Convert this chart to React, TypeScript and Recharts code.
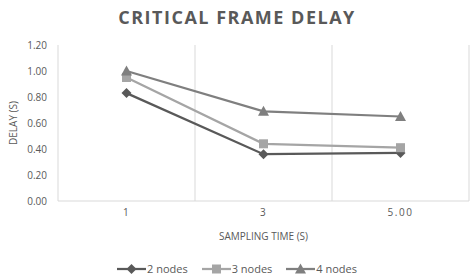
import { CartesianGrid, Line, LineChart, XAxis, YAxis } from 'recharts';

const samplingTimes = ['1', '3', '5.00'];
const twoNodes = [0.83, 0.36, 0.37];
const threeNodes = [0.95, 0.44, 0.41];
const fourNodes = [1.0, 0.69, 0.65];
const yTicks = [0, 0.2, 0.4, 0.6, 0.8, 1.0, 1.2];

const chartData = samplingTimes.map((time, i) => ({
    time,
    two: twoNodes[i],
    three: threeNodes[i],
    four: fourNodes[i],
}));

const series = [
    { key: 'two', name: '2 nodes', color: '#595959', shape: 'diamond' },
    { key: 'three', name: '3 nodes', color: '#a5a5a5', shape: 'square' },
    { key: 'four', name: '4 nodes', color: '#7f7f7f', shape: 'triangle' },
];

const font = "'Open Sans', 'DejaVu Sans', sans-serif";

function Marker({ cx, cy, shape, color }: { cx: number; cy: number; shape: string; color: string }) {
    if (shape === 'diamond') {
        return <polygon points={`${cx},${cy - 5} ${cx + 5},${cy} ${cx},${cy + 5} ${cx - 5},${cy}`} fill={color} />;
    }
    if (shape === 'square') {
        return <rect x={cx - 4.5} y={cy - 4.5} width={9} height={9} fill={color} />;
    }
    return <polygon points={`${cx},${cy - 5.5} ${cx + 5.5},${cy + 4.5} ${cx - 5.5},${cy + 4.5}`} fill={color} />;
}

export default function App() {
    return (
        <div style={{ position: 'absolute', left: 0, top: 0, width: 474, height: 279, background: '#fff', fontFamily: font }}>
            <div
                style={{
                    position: 'absolute',
                    top: 5,
                    width: 474,
                    textAlign: 'center',
                    fontSize: 18,
                    fontWeight: 700,
                    letterSpacing: 1.5,
                    color: '#595959',
                }}
            >
                CRITICAL FRAME DELAY
            </div>
            <LineChart width={474} height={279} data={chartData} margin={{ top: 45, right: 5, bottom: 48, left: 0 }}>
                <CartesianGrid
                    stroke="#d9d9d9"
                    horizontal={false}
                    verticalCoordinatesGenerator={({ offset }: any) =>
                        samplingTimes.concat(['']).map((_, i) => offset.left + (i * offset.width) / samplingTimes.length)
                    }
                />
                <XAxis
                    dataKey="time"
                    scale="band"
                    axisLine={{ stroke: '#d9d9d9' }}
                    tickLine={false}
                    height={30}
                    tick={{ fill: '#595959', fontSize: 10, fontFamily: font, letterSpacing: 1.5 }}
                />
                <YAxis
                    width={58}
                    domain={[0, 1.2]}
                    ticks={yTicks}
                    tickFormatter={(v: number) => v.toFixed(2)}
                    axisLine={false}
                    tickLine={false}
                    tickMargin={5}
                    tick={{ fill: '#595959', fontSize: 10, fontFamily: font }}
                />
                {series.map((s) => (
                    <Line
                        key={s.key}
                        dataKey={s.key}
                        name={s.name}
                        stroke={s.color}
                        strokeWidth={2.25}
                        isAnimationActive={false}
                        dot={(p: any) => <Marker key={p.index} cx={p.cx} cy={p.cy} shape={s.shape} color={s.color} />}
                        activeDot={false}
                    />
                ))}
            </LineChart>
            <div
                style={{
                    position: 'absolute',
                    left: 13,
                    top: 123,
                    transform: 'translate(-50%, -50%) rotate(-90deg)',
                    fontSize: 10,
                    color: '#595959',
                    whiteSpace: 'nowrap',
                }}
            >
                DELAY (S)
            </div>
            <div
                style={{
                    position: 'absolute',
                    top: 229,
                    left: 58,
                    width: 411,
                    textAlign: 'center',
                    fontSize: 10,
                    color: '#595959',
                }}
            >
                SAMPLING TIME (S)
            </div>
            <div
                style={{
                    position: 'absolute',
                    top: 261,
                    left: 0,
                    width: 474,
                    display: 'flex',
                    justifyContent: 'center',
                    gap: 14,
                    fontSize: 11,
                    color: '#595959',
                }}
            >
                {series.map((s) => (
                    <div key={s.key} style={{ display: 'flex', alignItems: 'center' }}>
                        <svg width={29} height={12}>
                            <line x1={0} y1={6} x2={29} y2={6} stroke={s.color} strokeWidth={2.25} />
                            <Marker cx={14.5} cy={6} shape={s.shape} color={s.color} />
                        </svg>
                        <span style={{ marginLeft: 1 }}>{s.name}</span>
                    </div>
                ))}
            </div>
        </div>
    );
}
